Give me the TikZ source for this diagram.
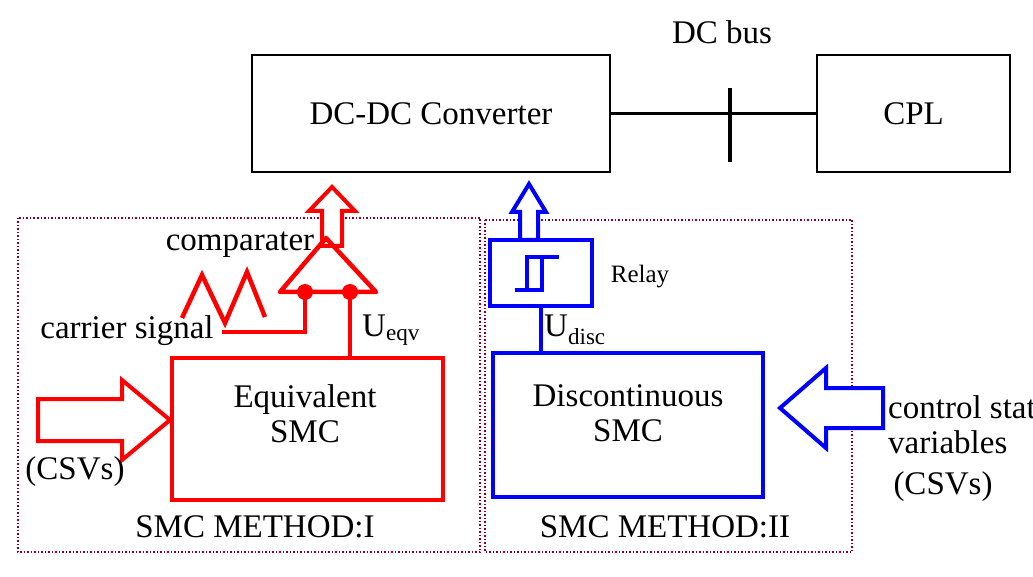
\documentclass[tikz,border=0pt]{standalone}
\usepackage{fontspec}
\setmainfont{Liberation Serif}
\begin{document}
\begin{tikzpicture}[x=1pt,y=-1pt,
  txt/.style={font=\fontsize{33}{36}\selectfont,inner sep=0pt},
  stxt/.style={font=\fontsize{25}{28}\selectfont,inner sep=0pt},
  blk/.style={draw=black,line width=2pt},
  rd/.style={draw=red,line width=4.5pt},
  bl/.style={draw=blue,line width=4.5pt},
  dotbox/.style={draw=purple!70!black,line width=1.5pt,dotted}]
\useasboundingbox (0,0) rectangle (1033,577);
\clip (0,0) rectangle (1033,577);
% top
\node[blk,minimum width=358pt,minimum height=117pt] (conv) at (431,113.5) {};
\node[txt] at (conv.center) {DC-DC Converter};
\node[blk,minimum width=193pt,minimum height=117pt] (cpl) at (913.5,113.5) {};
\node[txt] at (cpl.center) {CPL};
\draw[black,line width=3pt] (conv.east) -- (cpl.west);
\draw[black,line width=4.5pt] (730,88) -- (730,162);
\node[txt] at (722,32) {DC bus};
% dotted frames
\draw[dotbox] (18,218) rectangle (480,552);
\draw[dotbox] (485,220) rectangle (852,552);
% red part
\draw[red,line width=4pt,fill=white] (322,246) -- (322,211) -- (309,211) -- (332,187) -- (355,211) -- (342,211) -- (342,246) -- cycle;
\draw[rd,line join=round] (326,238) -- (280,292) -- (376,292) -- cycle;
\fill[red] (305,292) circle (8) (350,292) circle (8);
\draw[rd] (305,292) -- (305,332) -- (222,332);
\draw[rd] (182,318) -- (202,275) -- (225,323) -- (247,272) -- (265,317);
\node[rd,minimum width=271pt,minimum height=142pt] (eq) at (307.5,429) {};
\node[txt,align=center,font=\fontsize{33}{35}\selectfont] at (305,414) {Equivalent\\SMC};
\draw[rd] (350,292) -- (350,358);
\node[txt] at (240,245) {comparater};
\node[txt] at (127,331) {carrier signal};
\node[txt,anchor=west] at (362,330) {U\textsubscript{eqv}};
\draw[red,line width=4pt,fill=white] (38,399) -- (122,399) -- (122,380) -- (170,420) -- (122,460) -- (122,441) -- (38,441) -- cycle;
\node[txt] at (75,472) {(CSVs)};
\node[txt] at (255,527) {SMC METHOD:I};
% blue part
\draw[blue,line width=4pt,fill=white] (520,240) -- (520,212) -- (512,212) -- (529,184) -- (546,212) -- (538,212) -- (538,240) -- cycle;
\node[bl,minimum width=102pt,minimum height=66pt] (relay) at (541,273) {};
\draw[bl] (515,290) -- (542,290) -- (542,257);
\draw[bl] (527,290) -- (527,257) -- (559,257);
\node[stxt] at (640,277) {Relay};
\node[bl,minimum width=270pt,minimum height=144pt] (disc) at (628,425) {};
\node[txt,align=center,font=\fontsize{33}{35}\selectfont] at (628,413) {Discontinuous\\SMC};
\draw[bl] (relay.south -| 541,0) -- (541,353);
\node[txt,anchor=west] at (544,330) {U\textsubscript{disc}};
\draw[blue,line width=4pt,fill=white] (883,388) -- (826,388) -- (826,368) -- (780,408) -- (826,448) -- (826,428) -- (883,428) -- cycle;
\node[txt,anchor=west] at (888,407) {control state};
\node[txt,anchor=west] at (888,442) {variables};
\node[txt] at (943,487) {(CSVs)};
\node[txt] at (665,527) {SMC METHOD:II};
\end{tikzpicture}
\end{document}
